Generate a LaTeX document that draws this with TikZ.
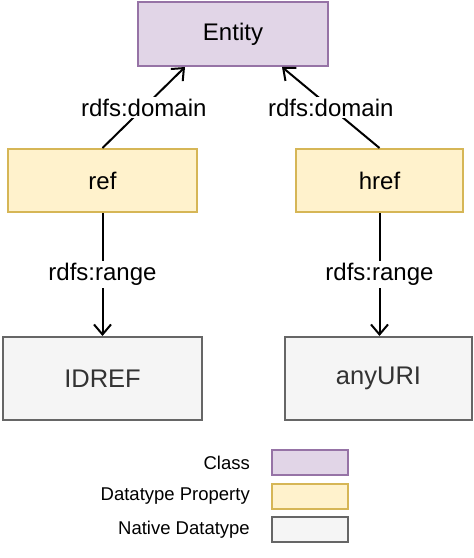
\documentclass[tikz,border=0pt]{standalone}
\usepackage{fontspec}
\setmainfont{Liberation Sans}
\usetikzlibrary{arrows.meta}

\definecolor{classfill}{HTML}{E1D5E7}
\definecolor{classline}{HTML}{9673A6}
\definecolor{propfill}{HTML}{FFF2CC}
\definecolor{propline}{HTML}{D6B656}
\definecolor{nativefill}{HTML}{F5F5F5}
\definecolor{nativeline}{HTML}{666666}

\tikzset{
  box/.style={draw, line width=2pt, inner sep=0pt, font=\fontsize{24}{28}\selectfont},
  classbox/.style={box, fill=classfill, draw=classline},
  propbox/.style={box, fill=propfill, draw=propline},
  nativebox/.style={box, fill=nativefill, draw=nativeline, text=black!80, font=\fontsize{25.5}{30}\selectfont},
  link/.style={line width=2pt, -{Straight Barb[length=10pt,width=17pt,line width=2pt]}},
  linklabel/.style={midway, fill=white, inner sep=2pt, font=\fontsize{24}{28}\selectfont},
  keybox/.style={draw, line width=2pt, minimum width=76pt, minimum height=25pt},
  keytext/.style={anchor=east, inner sep=0pt, font=\fontsize{18.5}{22}\selectfont}
}

\begin{document}
\begin{tikzpicture}[x=1pt, y=-1pt]
      \useasboundingbox (0, 0) rectangle (474, 558);
      \node [classbox, minimum width=190pt, minimum height=64pt] (entity) at (233, 34) {Entity};
      \node [propbox, minimum width=189pt, minimum height=63pt] (ref) at (102.5, 180.5) {ref};
      \node [propbox, minimum width=167pt, minimum height=63pt] (href) at (379.5, 180.5) {href};
      \node [nativebox, minimum width=199pt, minimum height=83pt] (idref) at (102.5, 378.5) {IDREF};
      \node [nativebox, minimum width=187pt, minimum height=83pt] (anyuri) at (378.5, 378.5) {anyURI};
      \coordinate (domleft) at (185, 67);
      \coordinate (domright) at (282, 67);
      \draw [link] (ref.north) -- (domleft) node [linklabel] {rdfs:domain};
      \draw [link] (href.north) -- (domright) node [linklabel] {rdfs:domain};
      \draw [link] (ref.south) -- (idref.north) node [linklabel] {rdfs:range};
      \draw [link] (href.south) -- (href.south |- anyuri.north) node [linklabel] {rdfs:range};
      % legend
      \node [keybox, fill=classfill, draw=classline] (keyclass) at (310, 462.5) {};
      \node [keybox, fill=propfill, draw=propline] (keyprop) at (310, 496) {};
      \node [keybox, fill=nativefill, draw=nativeline] (keynative) at (310, 529.5) {};
      \node [keytext] (lblclass) at (250, 462.5) {Class};
      \node [keytext] (lblprop) at (250, 496) {Datatype Property};
      \node [keytext] (lblnative) at (250, 529.5) {Native Datatype};
    \end{tikzpicture}
\end{document}
